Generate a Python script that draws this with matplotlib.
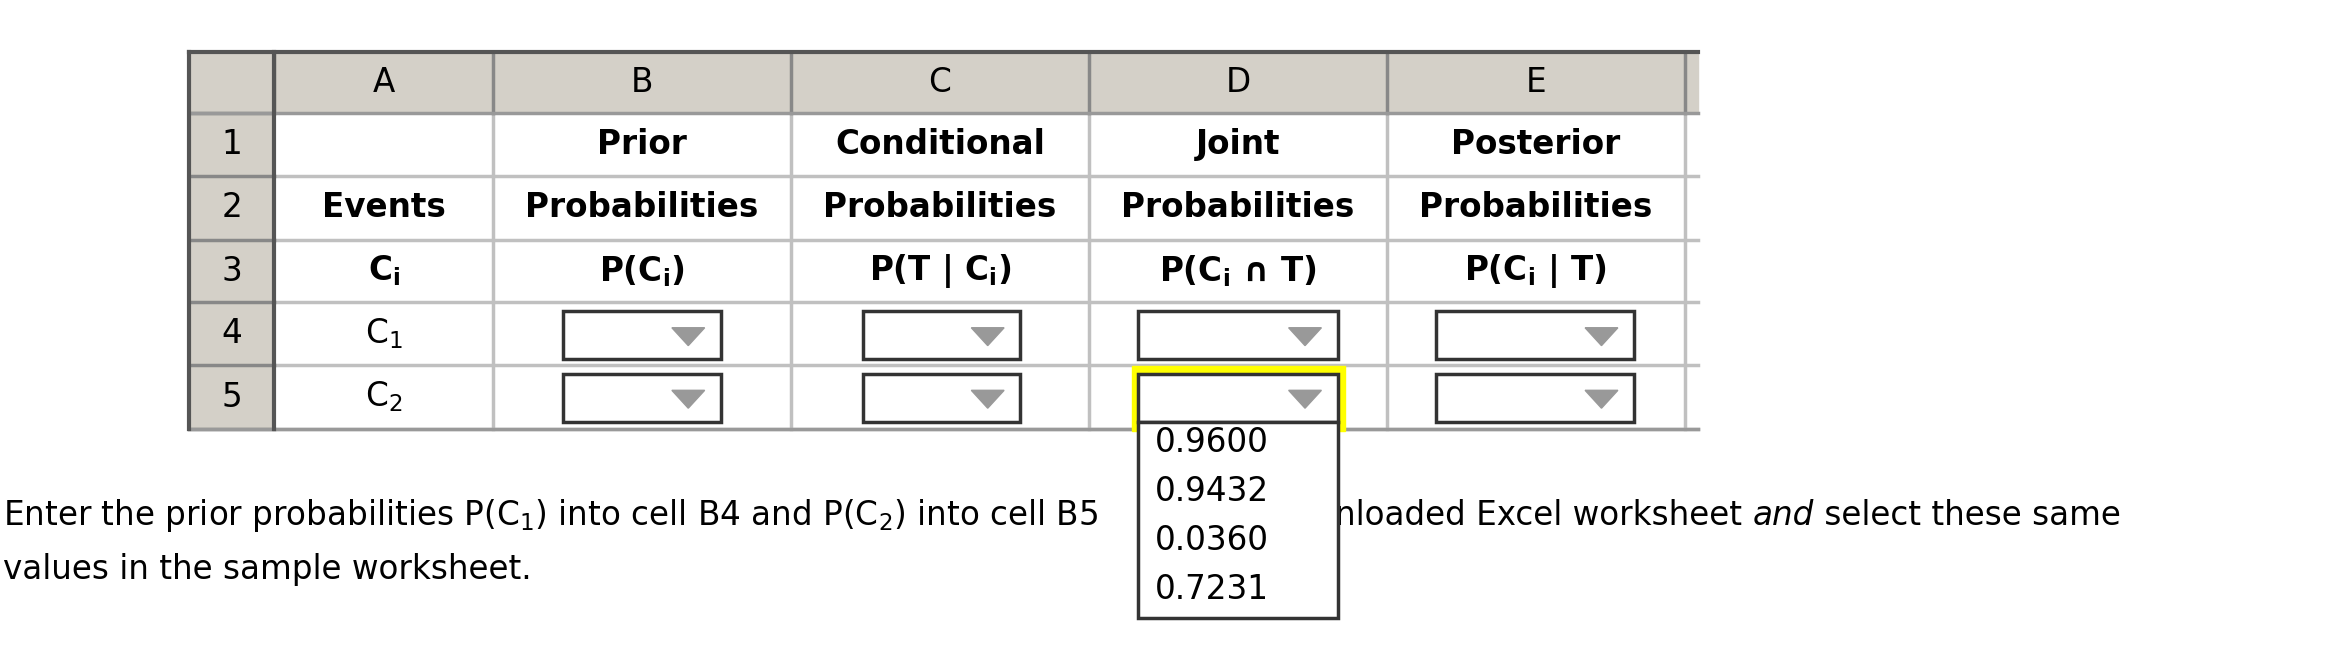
import matplotlib
matplotlib.use("Agg")
import matplotlib.pyplot as plt
from matplotlib.patches import Rectangle, Polygon

plt.rcParams["font.family"] = ["DejaVu Sans"]
plt.rcParams["mathtext.fontset"] = "dejavusans"

col_letters = ["A", "B", "C", "D", "E"]
row_numbers = ["1", "2", "3", "4", "5"]
row1 = ["", "Prior", "Conditional", "Joint", "Posterior"]
row2 = ["Events", "Probabilities", "Probabilities", "Probabilities", "Probabilities"]
row3 = [r"C$_\mathbf{i}$", r"P(C$_\mathbf{i}$)", r"P(T | C$_\mathbf{i}$)",
        r"P(C$_\mathbf{i}$ ∩ T)", r"P(C$_\mathbf{i}$ | T)"]
events = [r"C$_1$", r"C$_2$"]
dropdown_values = ["0.9600", "0.9432", "0.0360", "0.7231"]

S = 2327 / 1562
W, H = 2327 / S, 666 / S

fig = plt.figure(figsize=(23.27, 6.66), dpi=100)
ax = fig.add_axes([0, 0, 1, 1])
ax.set_xlim(0, W)
ax.set_ylim(H, 0)
ax.axis("off")

col_edges = [127, 184, 331, 531, 731, 931, 1131]
row_edges = [35, 76, 118, 161, 203, 245, 288]
fs = 23.5
hdr = "#d4d0c8"
grid = "#c0c0c0"
dark = "#555555"

# header backgrounds
ax.add_patch(Rectangle((127, 35), 1140 - 127, 41, color=hdr, zorder=0))
ax.add_patch(Rectangle((127, 35), 57, 253, color=hdr, zorder=0))

# grid lines
for x in col_edges[2:]:
    ax.plot([x, x], [76, 288], color=grid, lw=2.5, zorder=1)
for y in row_edges[2:]:
    ax.plot([184, 1140], [y, y], color=grid, lw=2.5, zorder=1)
for x in col_edges[1:]:
    ax.plot([x, x], [35, 76], color="#888888", lw=2.5, zorder=1)
for y in row_edges[1:]:
    ax.plot([127, 184], [y, y], color="#888888", lw=2.5, zorder=1)
ax.plot([127, 1140], [76, 76], color="#999999", lw=2.5, zorder=1)
ax.plot([127, 1140], [35, 35], color=dark, lw=3, zorder=2)
ax.plot([127, 1140], [288, 288], color="#999999", lw=2.5, zorder=2)
ax.plot([127, 127], [35, 288], color=dark, lw=3, zorder=2)
ax.plot([184, 184], [35, 288], color=dark, lw=3, zorder=2)

def cx(i):
    return (col_edges[i] + col_edges[i + 1]) / 2

def cy(j):
    return (row_edges[j] + row_edges[j + 1]) / 2

for i, t in enumerate(col_letters):
    ax.text(cx(i + 1), cy(0), t, ha="center", va="center", fontsize=fs)
for j, t in enumerate(row_numbers):
    ax.text(cx(0), cy(j + 1), t, ha="center", va="center", fontsize=fs)
for row, j in [(row1, 1), (row2, 2), (row3, 3)]:
    for i, t in enumerate(row):
        if t:
            ax.text(cx(i + 1), cy(j), t, ha="center", va="center",
                    fontsize=fs, fontweight="bold")
for k, t in enumerate(events):
    ax.text(cx(1), cy(4 + k), t, ha="center", va="center", fontsize=fs)

# yellow highlight on D5
ax.add_patch(Rectangle((760, 246), 143, 43, color="#ffff00", zorder=3))

boxes = {2: (378, 484), 3: (579, 685), 4: (764, 898), 5: (964, 1097)}
for c, (x0, x1) in boxes.items():
    for y0 in (209, 251):
        ax.add_patch(Rectangle((x0, y0), x1 - x0, 32, facecolor="white",
                               edgecolor="#333333", lw=2.5, zorder=4))
        tx, ty = x1 - 22, y0 + 16
        ax.add_patch(Polygon([(tx - 11, ty - 5), (tx + 11, ty - 5), (tx, ty + 7)],
                             closed=True, color="#999999", zorder=5))

# instruction text
ty1, ty2 = 346, 382
ax.text(2, ty1, r"Enter the prior probabilities P(C$_1$) into cell B4 and P(C$_2$) into cell B5",
        fontsize=fs, va="center")
ax.text(2, ty2, "values in the sample worksheet.", fontsize=fs, va="center")

fig.canvas.draw()
r = fig.canvas.get_renderer()
x = 896
for txt, style in [("nloaded Excel worksheet ", "normal"), ("and", "italic"),
                   (" select these same", "normal")]:
    t = ax.text(x, ty1, txt, fontsize=fs, va="center", style=style)
    bb = t.get_window_extent(r)
    x += bb.width / S

# dropdown list
ax.add_patch(Rectangle((764, 283), 134, 132, facecolor="white",
                       edgecolor="#333333", lw=2.5, zorder=6))
for k, v in enumerate(dropdown_values):
    ax.text(775, 297 + 33 * k, v, fontsize=fs, va="center", zorder=7)

fig.savefig("out.png", dpi=100)
